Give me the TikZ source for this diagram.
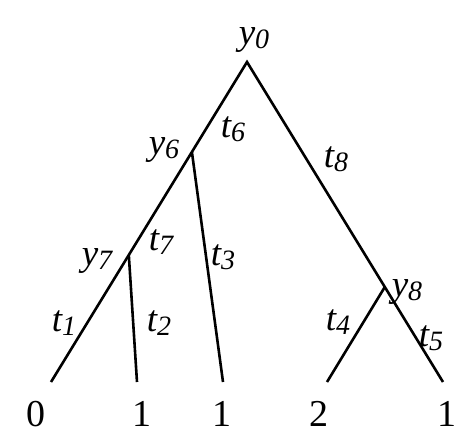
\documentclass[tikz,border=0pt]{standalone}
\usepackage{fontspec}
\setmainfont{Liberation Serif}
\usepackage{tikz}
\usetikzlibrary{positioning}

\newcommand{\vlab}[2]{\textit{#1\raisebox{-0.25ex}{\fontsize{14}{15}\selectfont #2}}}

\begin{document}
\begin{tikzpicture} [
	x=0.5pt,y=-0.5pt,
	branch/.style={
		line width=1.3pt},
	vlabel/.style={
		inner sep=0pt,font=\fontsize{18.5}{20}\selectfont},
	leaflabel/.style={
		inner sep=0pt,font=\fontsize{19}{21}\selectfont}]
\useasboundingbox (0,0) rectangle (474,434);
\coordinate (root) 	at (247,62);
\coordinate (n6) 	at (191.9,152);
\coordinate (n7) 	at (128.8,255);
\coordinate (n8) 	at (384.8,287);
\coordinate (leaf a) 	at (51,382);
\coordinate (leaf b) 	at (137,382);
\coordinate (leaf c) 	at (223,382);
\coordinate (leaf d) 	at (327,382);
\coordinate (leaf e) 	at (443,382);
\draw[branch] (leaf a) -- (root) -- (leaf e);
\draw[branch] (n6) -- (leaf c);
\draw[branch] (n7) -- (leaf b);
\draw[branch] (n8) -- (leaf d);
\node[vlabel] (y0) 	at (254,40) {\vlab{y}{0}};
\node[vlabel] (y6) 	at (164,150) {\vlab{y}{6}};
\node[vlabel] (y7) 	at (97,261) {\vlab{y}{7}};
\node[vlabel] (y8) 	at (407,292) {\vlab{y}{8}};
\node[vlabel] (t1) 	at (64,323) {\vlab{t}{1}};
\node[vlabel] (t2) 	at (159,323) {\vlab{t}{2}};
\node[vlabel] (t3) 	at (223,257) {\vlab{t}{3}};
\node[vlabel] (t4) 	at (338,322) {\vlab{t}{4}};
\node[vlabel] (t5) 	at (431,338) {\vlab{t}{5}};
\node[vlabel] (t6) 	at (233,129) {\vlab{t}{6}};
\node[vlabel] (t7) 	at (161,242) {\vlab{t}{7}};
\node[vlabel] (t8) 	at (336,159) {\vlab{t}{8}};
\node[leaflabel] (w0) 	at (36,414) {0};
\node[leaflabel] (w1) 	at (142,414) {1};
\node[leaflabel] (w2) 	at (222,414) {1};
\node[leaflabel] (w3) 	at (319,414) {2};
\node[leaflabel] (w4) 	at (447,414) {1};
\end{tikzpicture}
\end{document}
